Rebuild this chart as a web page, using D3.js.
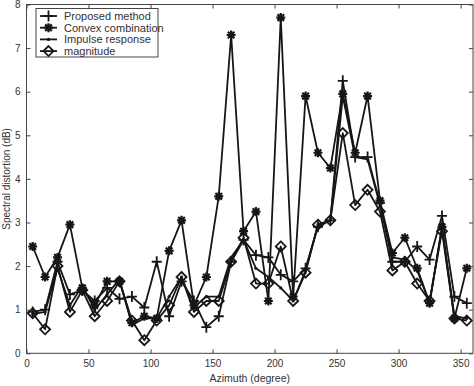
<!DOCTYPE html>
<html>
<head>
<meta charset="utf-8">
<script src="https://cdnjs.cloudflare.com/ajax/libs/d3/7.8.5/d3.min.js"></script>
<style>
  body { margin: 0; background: #fff; }
  svg { display: block; font-family: "Liberation Sans", Arial, sans-serif; }
</style>
</head>
<body>
<div id="chart"></div>
<script>
const width = 474;
const height = 386;

const azimuth = d3.range(5, 360, 10);
const seriesNames = ["Proposed method", "Convex combination", "Impulse response", "magnitude"];
const proposed = [0.95, 1.0, 2.1, 1.35, 1.45, 1.2, 1.5, 1.25, 1.3, 1.05, 2.1, 0.85, 1.65, 1.2, 0.6, 0.85, 2.1, 2.6, 2.25, 2.2, 1.8, 1.65, 1.95, 2.9, 3.05, 6.25, 4.5, 4.5, 3.45, 2.1, 2.1, 2.45, 2.15, 3.15, 1.3, 1.15];
const convex = [2.45, 1.75, 2.2, 2.95, 1.5, 1.1, 1.65, 1.65, 0.7, 0.85, 0.8, 2.35, 3.05, 1.1, 1.75, 3.6, 7.3, 2.8, 3.25, 1.2, 7.7, 1.3, 5.9, 4.6, 4.25, 5.95, 4.6, 5.9, 3.5, 2.3, 2.65, 1.95, 1.15, 2.9, 0.8, 1.95];
const impulse = [0.9, 0.95, 1.95, 1.1, 1.55, 1.0, 1.35, 1.7, 0.65, 0.8, 0.8, 1.3, 1.75, 1.05, 1.3, 1.3, 2.2, 2.6, 1.95, 1.75, 1.5, 1.2, 1.9, 2.95, 3.05, 5.9, 4.5, 4.45, 3.4, 2.2, 2.15, 1.9, 1.15, 2.9, 0.85, 0.8];
const magnitude = [0.92, 0.55, 2.0, 0.95, 1.45, 0.85, 1.2, 1.65, 0.75, 0.3, 0.75, 1.1, 1.75, 0.95, 1.2, 1.2, 2.1, 2.65, 1.6, 1.6, 2.45, 1.2, 1.85, 2.95, 3.05, 5.05, 3.4, 3.75, 3.25, 1.9, 2.1, 1.6, 1.2, 2.8, 0.8, 0.75];
const xTicks = [0, 50, 100, 150, 200, 250, 300, 350];
const yTicks = [0, 1, 2, 3, 4, 5, 6, 7, 8];

const allSeries = [proposed, convex, impulse, magnitude];
const markerPaths = {
  "Proposed method": "M-5,0H5M0,-5.5V5.5",
  "Convex combination": "M-4.5,0H4.5M0,-4.5V4.5M-3.3,-3.3L3.3,3.3M-3.3,3.3L3.3,-3.3",
  "Impulse response": null,
  "magnitude": "M0,-5L5,0L0,5L-5,0Z"
};

const plotL = 26.5, plotR = 473, plotT = 4.5, plotB = 353.3;
const ink = "#161616";

const svg = d3.select("#chart").append("svg")
  .attr("width", width)
  .attr("height", height);

const x = d3.scaleLinear().domain([0, 360]).range([plotL, plotR]);
const y = d3.scaleLinear().domain([0, 8]).range([plotB, plotT]);

// frame
svg.append("rect")
  .attr("x", plotL).attr("y", plotT)
  .attr("width", plotR - plotL).attr("height", plotB - plotT)
  .attr("fill", "none").attr("stroke", "#444").attr("stroke-width", 1);

// ticks inward on all sides
const tickLen = 4;
svg.append("g")
  .attr("transform", `translate(0,${plotB})`)
  .call(d3.axisBottom(x).tickValues(xTicks).tickSize(-tickLen).tickPadding(7))
  .call(g => g.select(".domain").remove());
svg.append("g")
  .attr("transform", `translate(0,${plotT})`)
  .call(d3.axisTop(x).tickValues(xTicks).tickSize(-tickLen).tickFormat(""))
  .call(g => g.select(".domain").remove());
svg.append("g")
  .attr("transform", `translate(${plotL},0)`)
  .call(d3.axisLeft(y).tickValues(yTicks).tickSize(-tickLen).tickPadding(6))
  .call(g => g.select(".domain").remove());
svg.append("g")
  .attr("transform", `translate(${plotR},0)`)
  .call(d3.axisRight(y).tickValues(yTicks).tickSize(-tickLen).tickFormat(""))
  .call(g => g.select(".domain").remove());

svg.selectAll(".tick line").attr("stroke", "#444");
svg.selectAll(".tick text").attr("fill", "#333").style("font-size", "10px")
  .style("font-family", "Liberation Sans, Arial, sans-serif");

// axis labels
svg.append("text")
  .attr("x", (plotL + plotR) / 2).attr("y", 382)
  .attr("text-anchor", "middle").attr("fill", "#333")
  .style("font-size", "10.5px")
  .text("Azimuth (degree)");

svg.append("text")
  .attr("transform", `translate(10,${(plotT + plotB) / 2}) rotate(-90)`)
  .attr("text-anchor", "middle").attr("fill", "#333")
  .style("font-size", "10px")
  .text("Spectral distortion (dB)");

// lines and markers
const line = d3.line().x((d, i) => x(azimuth[i])).y(d => y(d));

seriesNames.forEach((name, s) => {
  const vals = allSeries[s];
  const g = svg.append("g");
  g.append("path")
    .datum(vals)
    .attr("d", line)
    .attr("fill", "none")
    .attr("stroke", ink)
    .attr("stroke-width", 1.8)
    .attr("stroke-linejoin", "round");
  if (markerPaths[name]) {
    g.selectAll("path.m")
      .data(vals)
      .enter().append("path")
      .attr("class", "m")
      .attr("transform", (d, i) => `translate(${x(azimuth[i])},${y(d)})`)
      .attr("d", markerPaths[name])
      .attr("fill", "none")
      .attr("stroke", ink)
      .attr("stroke-width", name === "Convex combination" ? 2.2 : 1.8);
  } else {
    g.selectAll("circle")
      .data(vals)
      .enter().append("circle")
      .attr("cx", (d, i) => x(azimuth[i]))
      .attr("cy", d => y(d))
      .attr("r", 1.6)
      .attr("fill", ink);
  }
});

// legend
const legend = svg.append("g");
legend.append("rect")
  .attr("x", 36).attr("y", 8.5)
  .attr("width", 122).attr("height", 48.5)
  .attr("fill", "#fff").attr("stroke", "#444").attr("stroke-width", 1);

seriesNames.forEach((name, i) => {
  const ly = 16 + i * 11.7;
  legend.append("line")
    .attr("x1", 40).attr("x2", 57)
    .attr("y1", ly).attr("y2", ly)
    .attr("stroke", ink).attr("stroke-width", 1.8);
  if (markerPaths[name]) {
    legend.append("path")
      .attr("transform", `translate(48.5,${ly})`)
      .attr("d", markerPaths[name])
      .attr("fill", "none")
      .attr("stroke", ink)
      .attr("stroke-width", name === "Convex combination" ? 2.2 : 1.8);
  } else {
    legend.append("circle")
      .attr("cx", 48.5).attr("cy", ly).attr("r", 1.6).attr("fill", ink);
  }
  legend.append("text")
    .attr("x", 64).attr("y", ly + 3.8)
    .attr("fill", "#333")
    .style("font-size", "11px")
    .text(name);
});
</script>
</body>
</html>
